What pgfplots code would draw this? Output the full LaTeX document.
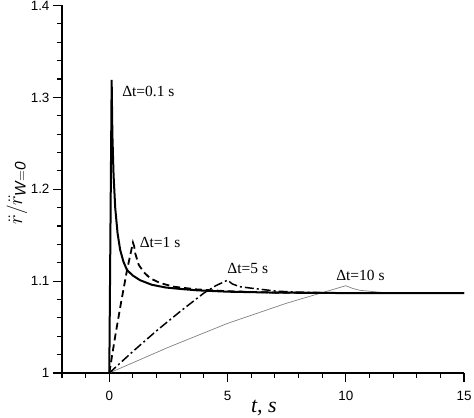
\documentclass[border=0pt]{standalone}
\usepackage{fontspec}
\setmainfont{Liberation Sans}
\newfontfamily\tnr{Liberation Serif}
\usepackage{pgfplots}
\pgfplotsset{compat=1.18}
\begin{document}
\begin{tikzpicture}
\begin{axis}[
  at={(0,0)}, anchor=south west,
  scale only axis, width=402bp, height=367.5bp,
  xmin=-2, xmax=15, ymin=1, ymax=1.4,
  axis x line*=bottom, axis y line*=left,
  xtick={0,5,10,15},
  minor xtick={-2,-1,0,1,2,3,4,5,6,7,8,9,10,11,12,13,14,15},
  ytick={1,1.1,1.2,1.3,1.4}, yticklabels={1,1.1,1.2,1.3,1.4},
  minor ytick={1.02,1.04,1.06,1.08,1.12,1.14,1.16,1.18,1.22,1.24,1.26,1.28,1.32,1.34,1.36,1.38},
  tick align=outside,
  major tick length=9bp, minor tick length=5bp,
  every tick/.style={black, line width=1.1bp},
  axis line style={line width=1.9bp},
  /pgf/number format/assume math mode=true,
  ticklabel style={font=\fontsize{13.5}{15}\selectfont},
  xticklabel style={yshift=-6bp},
  xlabel={{\tnr\itshape t, s}},
  ylabel={$\ddot{r}/\ddot{r}_{\mathit{W=0}}$},
  every axis x label/.style={at={(axis description cs:0.502,-0.095)}, anchor=center, font=\fontsize{22}{24}\selectfont},
  every axis y label/.style={at={(axis description cs:-0.112,0.49)}, rotate=90, anchor=center, font=\fontsize{22}{24}\selectfont},
  clip=false,
]
% Delta t = 10 s
\addplot[gray, line width=0.7bp] coordinates {
(0,1) (2.5,1.028) (5,1.054) (7.5,1.076) (10,1.095) (10.3,1.092) (10.6,1.090) (11.6,1.0875) (13,1.087) (15,1.087)};
% Delta t = 5 s
\addplot[black, line width=1.5bp, dash pattern=on 9bp off 3bp on 2bp off 3bp] coordinates {
(0,1) (1,1.0235) (2,1.046) (3,1.067) (4,1.087) (4.5,1.095) (5,1.101) (5.2,1.097) (5.5,1.094) (6.1,1.092) (7.1,1.089) (8,1.088) (10,1.087) (15,1.087)};
% Delta t = 1 s
\addplot[black, line width=1.8bp, dash pattern=on 7bp off 4bp] coordinates {
(0,1) (0.25,1.04) (0.5,1.077) (0.75,1.112) (1,1.142) (1.05,1.138) (1.1,1.130) (1.24,1.118) (1.45,1.110) (1.73,1.103) (2.15,1.098) (2.7,1.094) (3.7,1.091) (5,1.089) (7,1.0875) (10,1.087) (15,1.087)};
% Delta t = 0.1 s
\addplot[black, line width=2bp] coordinates {
(0,1) (0.1,1.319) (0.13,1.26) (0.18,1.216) (0.25,1.18) (0.35,1.152) (0.46,1.134) (0.6,1.121) (0.75,1.112) (1,1.106) (1.3,1.101) (1.8,1.096) (2.4,1.093) (3,1.0915) (3.7,1.090) (5,1.0885) (7,1.0875) (10,1.087) (15,1.087)};
\node[anchor=west, inner sep=0pt, font=\tnr\fontsize{15.5}{17}\selectfont] at (axis cs:0.54,1.306) {Δt=0.1 s};
\node[anchor=west, inner sep=0pt, font=\tnr\fontsize{15.5}{17}\selectfont] at (axis cs:1.28,1.1416) {Δt=1 s};
\node[anchor=west, inner sep=0pt, font=\tnr\fontsize{15.5}{17}\selectfont] at (axis cs:4.99,1.1133) {Δt=5 s};
\node[anchor=west, inner sep=0pt, font=\tnr\fontsize{15.5}{17}\selectfont] at (axis cs:9.59,1.1057) {Δt=10 s};
\end{axis}
\pgfresetboundingbox
\useasboundingbox (-62bp,-45bp) rectangle (412bp,373bp);
\end{tikzpicture}
\end{document}
